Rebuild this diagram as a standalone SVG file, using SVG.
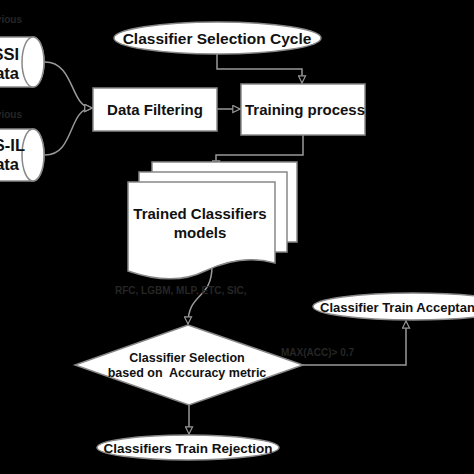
<svg xmlns="http://www.w3.org/2000/svg" width="474" height="474" viewBox="0 0 474 474">
<style>
.shape{fill:#fff;stroke:#888;stroke-width:1.5}
.edge{fill:none;stroke:#999;stroke-width:1.5}
.t{font-family:"Liberation Sans",Arial,sans-serif;font-weight:bold;fill:#111}
.dim{font-family:"Liberation Sans",Arial,sans-serif;font-weight:bold;fill:#262626;font-size:10px}
</style>
<defs>
<marker id="arr" viewBox="0 0 10 10" refX="9" refY="5" markerWidth="9" markerHeight="9" markerUnits="userSpaceOnUse" orient="auto">
<path d="M1,1 L9,5 L1,9 z" fill="#000" stroke="#999" stroke-width="1.3"/>
</marker>
</defs>
<rect x="0" y="0" width="474" height="474" fill="#000"/>

<g id="connectors">
<path class="edge" d="M45,62 C75,62 70,108 92,108" marker-end="url(#arr)"/>
<path class="edge" d="M45,155 C75,155 68,108 92,108" marker-end="url(#arr)"/>
<path class="edge" d="M217,109 H240" marker-end="url(#arr)"/>
<path class="edge" d="M217,54 V69 H302 V83" marker-end="url(#arr)"/>
<path class="edge" d="M303,135 V155 H216 V168" marker-end="url(#arr)"/>
<path class="edge" d="M212,266 C212,300 188,292 188,324" marker-end="url(#arr)"/>
<path class="edge" d="M303,365 H406 V321" marker-end="url(#arr)"/>
<path class="edge" d="M189,405 V434" marker-end="url(#arr)"/>
<text class="dim" x="115" y="294" font-size="10.5">RFC, LGBM, MLP, ETC, SIC,</text>
<text class="dim" x="281" y="356">MAX(ACC)&gt; 0.7</text>
</g>

<g id="ssi-data">
<text class="dim" x="22" y="23" text-anchor="end">Previous</text>
<path class="shape" d="M-20,37 H33 A11,25 0 0 1 33,87 H-20 Z"/>
<ellipse class="shape" cx="33" cy="62" rx="11" ry="25"/>
<text class="t" x="19" y="60" font-size="16.5" text-anchor="end">SSI</text>
<text class="t" x="19" y="79" font-size="16.5" text-anchor="end">Data</text>
</g>

<g id="sil-data">
<text class="dim" x="22" y="118" text-anchor="end">Previous</text>
<path class="shape" d="M-20,129 H33 A11,26 0 0 1 33,181 H-20 Z"/>
<ellipse class="shape" cx="33" cy="155" rx="11" ry="26"/>
<text class="t" x="25" y="151" font-size="16.5" text-anchor="end">S-IL</text>
<text class="t" x="19" y="170" font-size="16.5" text-anchor="end">Data</text>
</g>

<g id="cycle">
<rect class="shape" x="114" y="22" width="207" height="32" rx="103" ry="16"/>
<text class="t" x="217" y="44" font-size="15.5" text-anchor="middle">Classifier Selection Cycle</text>
</g>

<g id="filtering">
<rect class="shape" x="93" y="88" width="124" height="43"/>
<text class="t" x="155" y="115" font-size="15" text-anchor="middle">Data Filtering</text>
</g>

<g id="training">
<rect class="shape" x="241" y="84" width="124" height="51"/>
<text class="t" x="305" y="115" font-size="15" text-anchor="middle">Training process</text>
</g>

<g id="trained">
<rect class="shape" x="152" y="162" width="145" height="80"/>
<rect class="shape" x="139" y="172" width="148" height="80"/>
<path class="shape" d="M128,182 H275 V263 C250,256 228,260 205,271 C185,281 160,282 128,271 Z"/>
<text class="t" x="200" y="219" font-size="15" text-anchor="middle">Trained Classifiers</text>
<text class="t" x="200" y="238" font-size="15" text-anchor="middle">models</text>
</g>

<g id="selection">
<path class="shape" d="M188,325 L303,365 L189,405 L75,365 Z"/>
<text class="t" x="187" y="362" font-size="12.5" text-anchor="middle">Classifier Selection</text>
<text class="t" x="187" y="377" font-size="12.5" text-anchor="middle" xml:space="preserve">based on  Accuracy metric</text>
</g>

<g id="acceptance">
<rect class="shape" x="313" y="293" width="200" height="27" rx="100" ry="13.5"/>
<text class="t" x="320" y="312" font-size="13">Classifier Train Acceptance</text>
</g>

<g id="rejection">
<rect class="shape" x="97" y="435" width="182" height="25" rx="91" ry="12.5"/>
<text class="t" x="188" y="453" font-size="13.5" text-anchor="middle">Classifiers Train Rejection</text>
</g>
</svg>
